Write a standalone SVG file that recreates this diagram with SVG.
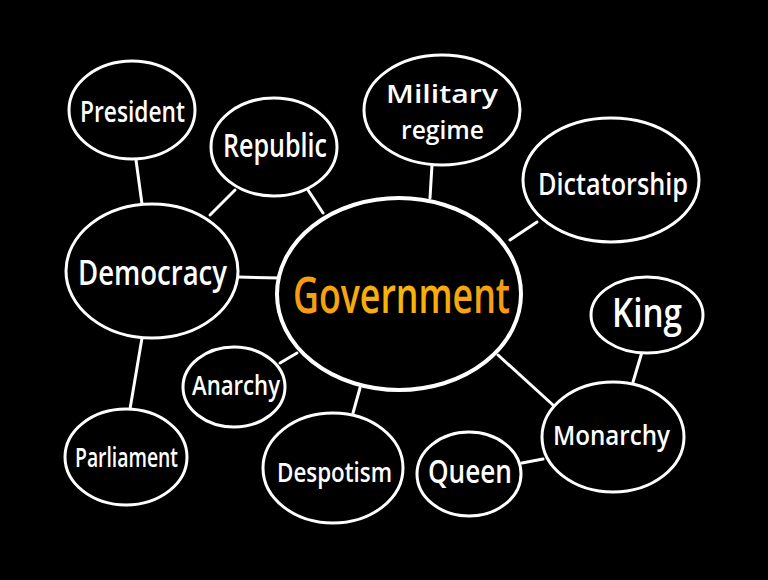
<svg xmlns="http://www.w3.org/2000/svg" width="768" height="580" viewBox="0 0 768 580">
<defs>
<style>
.n{fill:#000;stroke:#fff;stroke-width:3}
.c{stroke:#fff;stroke-width:3;stroke-linecap:round;fill:none}
.t{fill:#fff;font-family:"Open Sans","Liberation Sans",sans-serif;font-weight:600}
.g{font-family:"Open Sans","Liberation Sans",sans-serif;font-weight:600}
</style>
<linearGradient id="og" x1="0" y1="0" x2="1" y2="0">
<stop offset="0" stop-color="#f59a12"/>
<stop offset="0.5" stop-color="#f7b70a"/>
<stop offset="1" stop-color="#f59a12"/>
</linearGradient>
</defs>
<rect width="768" height="580" fill="#000"/>
<g id="connectors">
<line class="c" x1="136" y1="160" x2="142" y2="204"/>
<line class="c" x1="235" y1="190" x2="210" y2="215"/>
<line class="c" x1="308" y1="190" x2="323" y2="213"/>
<line class="c" x1="238" y1="277" x2="280" y2="278"/>
<line class="c" x1="432" y1="165" x2="430" y2="198"/>
<line class="c" x1="537" y1="222" x2="510" y2="240"/>
<line class="c" x1="280" y1="363" x2="297" y2="353"/>
<line class="c" x1="142" y1="338" x2="130" y2="409"/>
<line class="c" x1="360" y1="388" x2="353" y2="413"/>
<line class="c" x1="642" y1="352" x2="633" y2="382"/>
<line class="c" x1="498" y1="355" x2="553" y2="405"/>
<line class="c" x1="522" y1="463" x2="543" y2="459"/>
</g>
<g id="government">
<ellipse class="n" cx="399" cy="294" rx="122" ry="96" style="stroke-width:4"/>
<text class="g" x="293" y="313" font-size="50" fill="url(#og)" textLength="217" lengthAdjust="spacingAndGlyphs">Government</text>
</g>
<g id="president">
<ellipse class="n" cx="132" cy="110" rx="63" ry="49"/>
<text class="t" x="80" y="122" font-size="28" textLength="105" lengthAdjust="spacingAndGlyphs">President</text>
</g>
<g id="republic">
<ellipse class="n" cx="274" cy="147" rx="63" ry="49"/>
<text class="t" x="223" y="157" font-size="32" textLength="104" lengthAdjust="spacingAndGlyphs">Republic</text>
</g>
<g id="democracy">
<ellipse class="n" cx="152" cy="271" rx="86" ry="67"/>
<text class="t" x="78" y="285" font-size="34" textLength="149" lengthAdjust="spacingAndGlyphs">Democracy</text>
</g>
<g id="military">
<ellipse class="n" cx="442" cy="110" rx="78" ry="55"/>
<text class="t" x="386" y="103" font-size="26" textLength="112" lengthAdjust="spacingAndGlyphs">Military</text>
<text class="t" x="401" y="139" font-size="26" textLength="83" lengthAdjust="spacingAndGlyphs">regime</text>
</g>
<g id="dictatorship">
<ellipse class="n" cx="611" cy="180" rx="88" ry="62"/>
<text class="t" x="538" y="195" font-size="30" textLength="150" lengthAdjust="spacingAndGlyphs">Dictatorship</text>
</g>
<g id="anarchy">
<ellipse class="n" cx="234" cy="387" rx="51" ry="40"/>
<text class="t" x="192" y="395" font-size="27" textLength="88" lengthAdjust="spacingAndGlyphs">Anarchy</text>
</g>
<g id="parliament">
<ellipse class="n" cx="126" cy="457" rx="61" ry="48"/>
<text class="t" x="75" y="467" font-size="27" textLength="103" lengthAdjust="spacingAndGlyphs">Parliament</text>
</g>
<g id="despotism">
<ellipse class="n" cx="333" cy="468" rx="70" ry="55"/>
<text class="t" x="277" y="482" font-size="27" textLength="115" lengthAdjust="spacingAndGlyphs">Despotism</text>
</g>
<g id="king">
<ellipse class="n" cx="647" cy="315" rx="56" ry="38"/>
<text class="t" x="612" y="327" font-size="40" textLength="70" lengthAdjust="spacingAndGlyphs">King</text>
</g>
<g id="monarchy">
<ellipse class="n" cx="613" cy="437" rx="71" ry="55"/>
<text class="t" x="553" y="445" font-size="27" textLength="117" lengthAdjust="spacingAndGlyphs">Monarchy</text>
</g>
<g id="queen">
<ellipse class="n" cx="469" cy="474" rx="52" ry="42"/>
<text class="t" x="428" y="483" font-size="33" textLength="84" lengthAdjust="spacingAndGlyphs">Queen</text>
</g>
</svg>
